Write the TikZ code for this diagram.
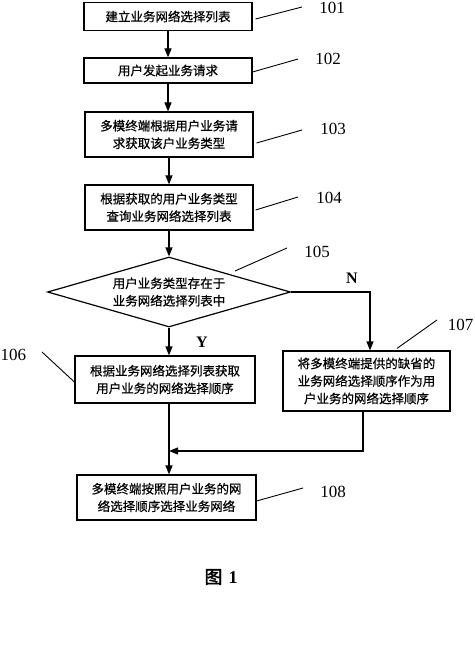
\documentclass[tikz,border=0pt]{standalone}
\usepackage{fontspec}
\setmainfont{Liberation Serif}
\newfontfamily\cjk[FakeBold=0.6]{Noto Sans CJK SC}
\newfontfamily\cjkb[FakeBold=2]{Noto Sans CJK SC}
\usetikzlibrary{shapes.geometric,arrows.meta,calc}
\begin{document}
\begin{tikzpicture}[x=1pt,y=-1pt,
  stepbox/.style={draw,line width=1.2pt,rectangle,inner sep=0pt,align=center,
    font=\cjk\fontsize{12.5}{17.5}\selectfont},
  decide/.style={draw,line width=1.2pt,diamond,aspect=3.47,inner sep=0pt,align=center,
    font=\cjk\fontsize{12.5}{17.5}\selectfont},
  flow/.style={line width=1.2pt,-{Triangle[length=9pt,width=7pt]}},
  plain/.style={line width=1.2pt},
  lead/.style={line width=0.9pt},
  num/.style={font=\fontsize{17}{20}\selectfont,inner sep=0pt},
  yn/.style={font=\fontsize{16}{19}\selectfont\bfseries,inner sep=0pt}]
\useasboundingbox (0,0) rectangle (474,668);

\node[stepbox,minimum width=168pt,minimum height=28pt] (n101) at (168,16.5) {建立业务网络选择列表};
\node[stepbox,minimum width=168pt,minimum height=25pt] (n102) at (168,70.5) {用户发起业务请求};
\node[stepbox,minimum width=168pt,minimum height=45pt] (n103) at (169,134.5) {多模终端根据用户业务请\\求获取该户业务类型};
\node[stepbox,minimum width=168pt,minimum height=45pt] (n104) at (169,207.5) {根据获取的用户业务类型\\查询业务网络选择列表};
\node[decide,minimum width=243pt,minimum height=70pt] (dia) at (169,292) {用户业务类型存在于\\业务网络选择列表中};
\node[stepbox,minimum width=180pt,minimum height=47pt] (n106) at (165,379.5) {根据业务网络选择列表获取\\用户业务的网络选择顺序};
\node[stepbox,minimum width=167pt,minimum height=60pt] (n107) at (366.5,381) {将多模终端提供的缺省的\\业务网络选择顺序作为用\\户业务的网络选择顺序};
\node[stepbox,minimum width=179pt,minimum height=45pt] (n108) at (166.5,497.5) {多模终端按照用户业务的网\\络选择顺序选择业务网络};

\coordinate (j) at (169,451);

\draw[flow] (n101.south) -- (n102.north);
\draw[flow] (n102.south) -- (n102.south |- n103.north);
\draw[flow] (n103.south) -- (n104.north);
\draw[flow] (n104.south) -- (dia.north);
\draw[flow] (dia.south) -- (dia.south |- n106.north);
\draw[flow] (dia.east) -| ($(n107.north)+(3.5,0)$);
\draw[plain] (n106.south -| j) -- (j);
\draw[flow] (j) -- (n108.north -| j);
\draw[flow] ($(n107.south)+(-3.5,0)$) |- (j);

\node[yn] (Y) at (202,342) {Y};
\node[yn] (N) at (352,278) {N};

\node[num] (l101) at (332,8) {101};
\node[num] (l102) at (328,59) {102};
\node[num] (l103) at (333,129) {103};
\node[num] (l104) at (329,198) {104};
\node[num] (l105) at (317,252) {105};
\node[num] (l106) at (13.5,355) {106};
\node[num] (l107) at (460.5,325) {107};
\node[num] (l108) at (333,492) {108};

\coordinate (e101) at (302,7);
\coordinate (e102) at (298,59);
\coordinate (e103) at (302,130);
\coordinate (e104) at (298,197);
\coordinate (e105) at (287,248);
\coordinate (e106) at (42,352);
\coordinate (e107) at (437,320);
\coordinate (e108) at (303,488);

\draw[lead] ($(n101.east)+(3,2.5)$) -- (e101);
\draw[lead] ($(n102.east)+(0,1.5)$) -- (e102);
\draw[lead] ($(n103.east)+(3,8.5)$) -- (e103);
\draw[lead] ($(n104.east)+(2,2.5)$) -- (e104);
\draw[lead] (235,271) coordinate (s105) -- (e105);
\draw[lead] ($(n106.west)+(0,2.5)$) -- (e106);
\draw[lead] ($(n107.north)+(30.5,-2)$) -- (e107);
\draw[lead] ($(n108.east)+(0,3.5)$) -- (e108);

\node[inner sep=0pt,font=\fontsize{18}{21}\selectfont] (cap) at (221,577) {{\cjkb 图}\,\,\textbf{1}};
\end{tikzpicture}
\end{document}
